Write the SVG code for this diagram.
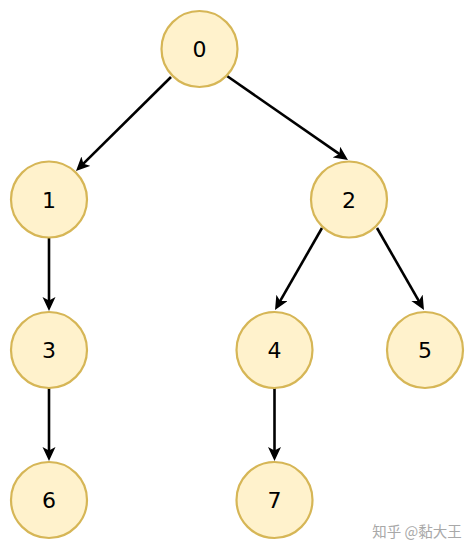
<svg xmlns="http://www.w3.org/2000/svg" width="474" height="549" viewBox="0 0 474 549">
<style>
.node circle{fill:#fff2cc;stroke:#d6b656;stroke-width:2.2}
.node text{font-family:"DejaVu Sans",Verdana,sans-serif;font-size:22px;fill:#000;text-anchor:middle}
.edge{stroke:#000;stroke-width:2.6;fill:none}
.wm{font-family:"Noto Sans CJK SC",sans-serif;font-size:14.5px;fill:#a8a8a8;text-anchor:middle}
</style>
<defs>
<marker id="arr" markerUnits="userSpaceOnUse" markerWidth="16" markerHeight="14" refX="5" refY="6.5" orient="auto">
<path d="M0,0 L14,6.5 L0,13 L3.5,6.5 z" fill="#000"/>
</marker>
</defs>
<rect width="474" height="549" fill="#fff"/>
<g id="connectors">
<line class="edge" x1="171" y1="77" x2="82.4" y2="164.7" marker-end="url(#arr)"/>
<line class="edge" x1="227" y1="76" x2="340.6" y2="154.9" marker-end="url(#arr)"/>
<line class="edge" x1="322" y1="228" x2="279.5" y2="302.2" marker-end="url(#arr)"/>
<line class="edge" x1="377" y1="228" x2="419.5" y2="302.2" marker-end="url(#arr)"/>
<line class="edge" x1="49" y1="238" x2="49" y2="302" marker-end="url(#arr)"/>
<line class="edge" x1="49" y1="388" x2="49" y2="452" marker-end="url(#arr)"/>
<line class="edge" x1="274.5" y1="388" x2="274.5" y2="452" marker-end="url(#arr)"/>
</g>
<g id="node0" class="node"><circle cx="199.5" cy="49" r="38"/><text x="199.5" y="57">0</text></g>
<g id="node1" class="node"><circle cx="49" cy="199.5" r="38"/><text x="49" y="207.5">1</text></g>
<g id="node2" class="node"><circle cx="349" cy="199.5" r="38"/><text x="349" y="207.5">2</text></g>
<g id="node3" class="node"><circle cx="49" cy="350" r="38"/><text x="49" y="358">3</text></g>
<g id="node4" class="node"><circle cx="274.5" cy="350" r="38"/><text x="274.5" y="358">4</text></g>
<g id="node5" class="node"><circle cx="425" cy="350" r="38"/><text x="425" y="358">5</text></g>
<g id="node6" class="node"><circle cx="49" cy="500" r="38"/><text x="49" y="508">6</text></g>
<g id="node7" class="node"><circle cx="274.5" cy="500" r="38"/><text x="274.5" y="508">7</text></g>
<text class="wm" x="417" y="537">知乎 @黏大王</text>
</svg>
